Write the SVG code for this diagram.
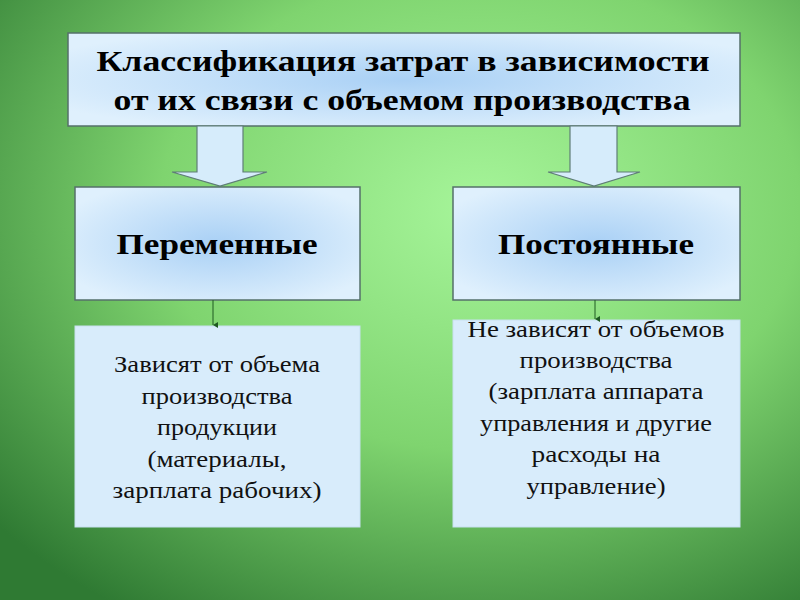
<svg xmlns="http://www.w3.org/2000/svg" width="800" height="600" viewBox="0 0 800 600">
<defs>
<radialGradient id="bg" cx="0.6" cy="0.35" r="0.8">
<stop offset="0" stop-color="#a6f59a"/><stop offset="0.5" stop-color="#7fd46f"/><stop offset="1" stop-color="#2f7a33"/>
</radialGradient>
<radialGradient id="box" cx="0.5" cy="0.5" r="0.6">
<stop offset="0" stop-color="#a9d0f5"/><stop offset="1" stop-color="#dff0fd"/>
</radialGradient>
<marker id="ah" markerWidth="6" markerHeight="6" refX="3" refY="5" orient="auto" markerUnits="userSpaceOnUse">
<path d="M0,0 L3,5 L6,0 Z" fill="#1e5a22"/>
</marker>
<style>
.b{fill:url(#box);stroke:#55706a;stroke-width:1.5}
.p{fill:#d8ecfb;stroke:#c8e0f0;stroke-width:1}
.ar{fill:#d6ecfb;stroke:#5f7d77;stroke-width:1.2}
.h{font-family:"Liberation Serif",serif;font-weight:bold;fill:#000;text-anchor:middle;font-size:30px}
.t{font-family:"Liberation Serif",serif;fill:#111;text-anchor:middle;font-size:23px}
</style>
</defs>
<rect width="800" height="600" fill="url(#bg)"/>
<g id="title"><rect class="b" x="68" y="33" width="672" height="93"/>
<text class="h" x="403" y="71" textLength="613" lengthAdjust="spacingAndGlyphs">Классификация затрат в зависимости</text>
<text class="h" x="402" y="110" textLength="577" lengthAdjust="spacingAndGlyphs">от их связи с объемом производства</text></g>
<g id="arrows">
<polygon class="ar" points="197,126 243,126 243,172 267,172 220,186 172,172 197,172"/>
<polygon class="ar" points="570,126 617,126 617,172 640,172 594,186 548,172 570,172"/>
</g>
<g id="n1"><rect class="b" x="75" y="187" width="285" height="113"/><text class="h" x="217" y="254" textLength="201" lengthAdjust="spacingAndGlyphs">Переменные</text></g>
<g id="n2"><rect class="b" x="453" y="187" width="287" height="113"/><text class="h" x="596" y="254" textLength="196" lengthAdjust="spacingAndGlyphs">Постоянные</text></g>
<g id="n3"><rect class="p" x="75" y="326" width="285" height="201"/>
<text class="t" x="217" y="372" textLength="206" lengthAdjust="spacingAndGlyphs">Зависят от объема</text>
<text class="t" x="217" y="404" textLength="151" lengthAdjust="spacingAndGlyphs">производства</text>
<text class="t" x="217" y="435" textLength="120" lengthAdjust="spacingAndGlyphs">продукции</text>
<text class="t" x="217" y="467" textLength="139" lengthAdjust="spacingAndGlyphs">(материалы,</text>
<text class="t" x="217" y="498" textLength="209" lengthAdjust="spacingAndGlyphs">зарплата рабочих)</text></g>
<g id="n4"><rect class="p" x="453" y="320" width="287" height="207"/>
<text class="t" x="596" y="337" textLength="257" lengthAdjust="spacingAndGlyphs">Не зависят от объемов</text>
<text class="t" x="596" y="368" textLength="153" lengthAdjust="spacingAndGlyphs">производства</text>
<text class="t" x="596" y="399" textLength="215" lengthAdjust="spacingAndGlyphs">(зарплата аппарата</text>
<text class="t" x="596" y="431" textLength="232" lengthAdjust="spacingAndGlyphs">управления и другие</text>
<text class="t" x="596" y="462" textLength="129" lengthAdjust="spacingAndGlyphs">расходы на</text>
<text class="t" x="596" y="494" textLength="139" lengthAdjust="spacingAndGlyphs">управление)</text></g>
<g id="connectors" stroke="#1e5a22" stroke-width="1">
<line x1="213" y1="300" x2="213" y2="325" marker-end="url(#ah)"/>
<line x1="595" y1="300" x2="595" y2="319" marker-end="url(#ah)"/>
</g>
</svg>
